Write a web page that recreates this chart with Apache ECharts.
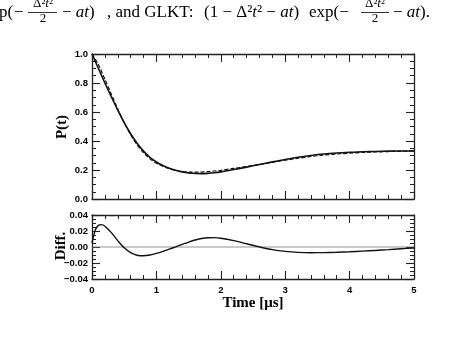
<!DOCTYPE html>
<html>
<head>
<meta charset="utf-8">
<script src="https://cdn.jsdelivr.net/npm/echarts@6/dist/echarts.min.js"></script>
<style>html,body{margin:0;padding:0;background:#fff}#c{width:474px;height:339px}</style>
</head>
<body>
<div id="c"></div>
<script>
// Top panel: P(t)
var tTop = [0,0.1,0.2,0.3,0.4,0.5,0.6,0.7,0.8,0.9,1.0,1.1,1.2,1.3,1.4,1.5,1.6,1.7,1.8,1.9,2.0,2.2,2.4,2.6,2.8,3.0,3.2,3.4,3.6,3.8,4.0,4.2,4.4,4.6,4.8,5.0];
var pSolid = [1.0,0.90,0.80,0.705,0.613,0.527,0.450,0.384,0.330,0.287,0.255,0.231,0.212,0.198,0.187,0.180,0.176,0.175,0.177,0.181,0.187,0.203,0.220,0.238,0.256,0.273,0.288,0.300,0.310,0.317,0.322,0.326,0.328,0.330,0.331,0.332];
var pDashed = [1.0,0.927,0.826,0.723,0.621,0.526,0.443,0.374,0.319,0.277,0.247,0.2255,0.209,0.198,0.190,0.186,0.185,0.186,0.189,0.193,0.198,0.211,0.224,0.238,0.253,0.2675,0.281,0.293,0.303,0.310,0.316,0.321,0.324,0.327,0.329,0.331];
// Bottom panel: Diff.
var tDiff = [0,0.05,0.1,0.15,0.2,0.3,0.4,0.5,0.6,0.7,0.8,0.9,1.0,1.1,1.2,1.3,1.4,1.5,1.6,1.7,1.8,1.9,2.0,2.2,2.4,2.6,2.8,3.0,3.2,3.4,3.6,3.8,4.0,4.2,4.4,4.6,4.8,5.0];
var diff = [0.005,0.021,0.027,0.028,0.026,0.018,0.008,-0.001,-0.007,-0.0103,-0.011,-0.010,-0.008,-0.0055,-0.0027,0.0002,0.0032,0.0062,0.0088,0.0106,0.0116,0.0117,0.011,0.008,0.004,0.0001,-0.0033,-0.0055,-0.0067,-0.0071,-0.007,-0.0066,-0.006,-0.0052,-0.0043,-0.0033,-0.0022,-0.0012];
var zeroT = [0,5];
var zeroV = [0,0];
// Tick settings
var xTicks = {min:0,max:5,interval:1,minorSplit:5};
var yTopTicks = {min:0,max:1,interval:0.2,minorSplit:4};
var yBotTicks = {min:-0.04,max:0.04,interval:0.02,minorSplit:4};

function zip(a,b){return a.map(function(v,i){return [v,b[i]];});}
var lineCol = '#222';
var lblStyle = {color:'#000',fontFamily:'Liberation Sans',fontWeight:'bold',fontSize:9.5};
function ax(type, grid, pos, t, showLbl, fmt){
  return {
    type:'value', gridIndex:grid, position:pos, min:t.min, max:t.max, interval:t.interval,
    axisLine:{show:true,onZero:false,lineStyle:{color:lineCol,width:1.3}},
    axisTick:{show:true,inside:true,length:8,lineStyle:{color:lineCol,width:1.1}},
    minorTick:{show:true,splitNumber:t.minorSplit,length:4,lineStyle:{color:lineCol,width:1}},
    splitLine:{show:false},
    axisLabel:Object.assign({show:showLbl,margin:type==='x'?6:4,formatter:fmt},lblStyle)
  };
}
var fx = function(v){return String(Math.round(v));};
var fyTop = function(v){return v.toFixed(1);};
var fyBot = function(v){return v.toFixed(2).replace('-','\u2212');};

var serif = 'Liberation Serif';
var R = {r:{font:'17px '+serif,fill:'#000'},i:{font:'italic 17px '+serif,fill:'#000'}};
var Rs = {r:{font:'13px '+serif,fill:'#000'},i:{font:'italic 13px '+serif,fill:'#000'}};
function rt(x,y,s,rich,align){return {type:'text',x:x,y:y,style:{text:s,rich:rich,align:align||'left',verticalAlign:'middle'}};}
var chart = echarts.init(document.getElementById('c'));
chart.setOption({
  backgroundColor:'#fff',
  animation:false,
  grid:[
    {left:92,top:54,width:322,height:145},
    {left:92,top:215,width:322,height:64}
  ],
  xAxis:[
    ax('x',0,'bottom',xTicks,false,fx),
    ax('x',0,'top',xTicks,false,fx),
    ax('x',1,'bottom',xTicks,true,fx),
    ax('x',1,'top',xTicks,false,fx)
  ],
  yAxis:[
    ax('y',0,'left',yTopTicks,true,fyTop),
    ax('y',0,'right',yTopTicks,false,fyTop),
    ax('y',1,'left',yBotTicks,true,fyBot),
    ax('y',1,'right',yBotTicks,false,fyBot)
  ],
  series:[
    {type:'line',xAxisIndex:0,yAxisIndex:0,data:zip(tTop,pDashed),showSymbol:false,smooth:0.3,
     lineStyle:{color:'#111',width:1.2,type:[4,2]}},
    {type:'line',xAxisIndex:0,yAxisIndex:0,data:zip(tTop,pSolid),showSymbol:false,smooth:0.3,
     lineStyle:{color:'#111',width:1.6}},
    {type:'line',xAxisIndex:2,yAxisIndex:2,data:zip(zeroT,zeroV),showSymbol:false,
     lineStyle:{color:'#777',width:0.8}},
    {type:'line',xAxisIndex:2,yAxisIndex:2,data:zip(tDiff,diff),showSymbol:false,smooth:0.3,
     lineStyle:{color:'#111',width:1.4}}
  ],
  graphic:[
    rt(-1,12.5,'{r|p(}',R),
    rt(14,12.5,'{r|\u2212}',R),
    rt(43,4,'{r|\u0394\u00b2}{i|t}{r|\u00b2}',Rs,'center'),
    {type:'line',shape:{x1:28,y1:12.5,x2:57,y2:12.5},style:{stroke:'#000',lineWidth:0.8}},
    rt(43,19,'{r|2}',Rs,'center'),
    rt(62,12.5,'{r|\u2212 }{i|at}{r|)}',R),
    rt(107,12.5,'{r|, and GLKT:}',R),
    rt(204,12.5,'{r|(1 \u2212 \u0394\u00b2}{i|t}{r|\u00b2 \u2212 }{i|at}{r|)}',R),
    rt(309,12.5,'{r|exp(\u2212}',R),
    rt(375,4,'{r|\u0394\u00b2}{i|t}{r|\u00b2}',Rs,'center'),
    {type:'line',shape:{x1:361,y1:12.5,x2:389,y2:12.5},style:{stroke:'#000',lineWidth:0.8}},
    rt(375,19,'{r|2}',Rs,'center'),
    rt(393,12.5,'{r|\u2212 }{i|at}{r|).}',R),
    {type:'text',x:62,y:127,rotation:Math.PI/2,style:{text:'P(t)',font:'bold 15px '+serif,fill:'#000',align:'center',verticalAlign:'middle'}},
    {type:'text',x:61,y:246,rotation:Math.PI/2,style:{text:'Diff.',font:'bold 15px '+serif,fill:'#000',align:'center',verticalAlign:'middle'}},
    {type:'text',x:253,y:303,style:{text:'Time [\u03bcs]',font:'bold 15px '+serif,fill:'#000',align:'center',verticalAlign:'middle'}}
  ]
});
</script>
</body>
</html>
